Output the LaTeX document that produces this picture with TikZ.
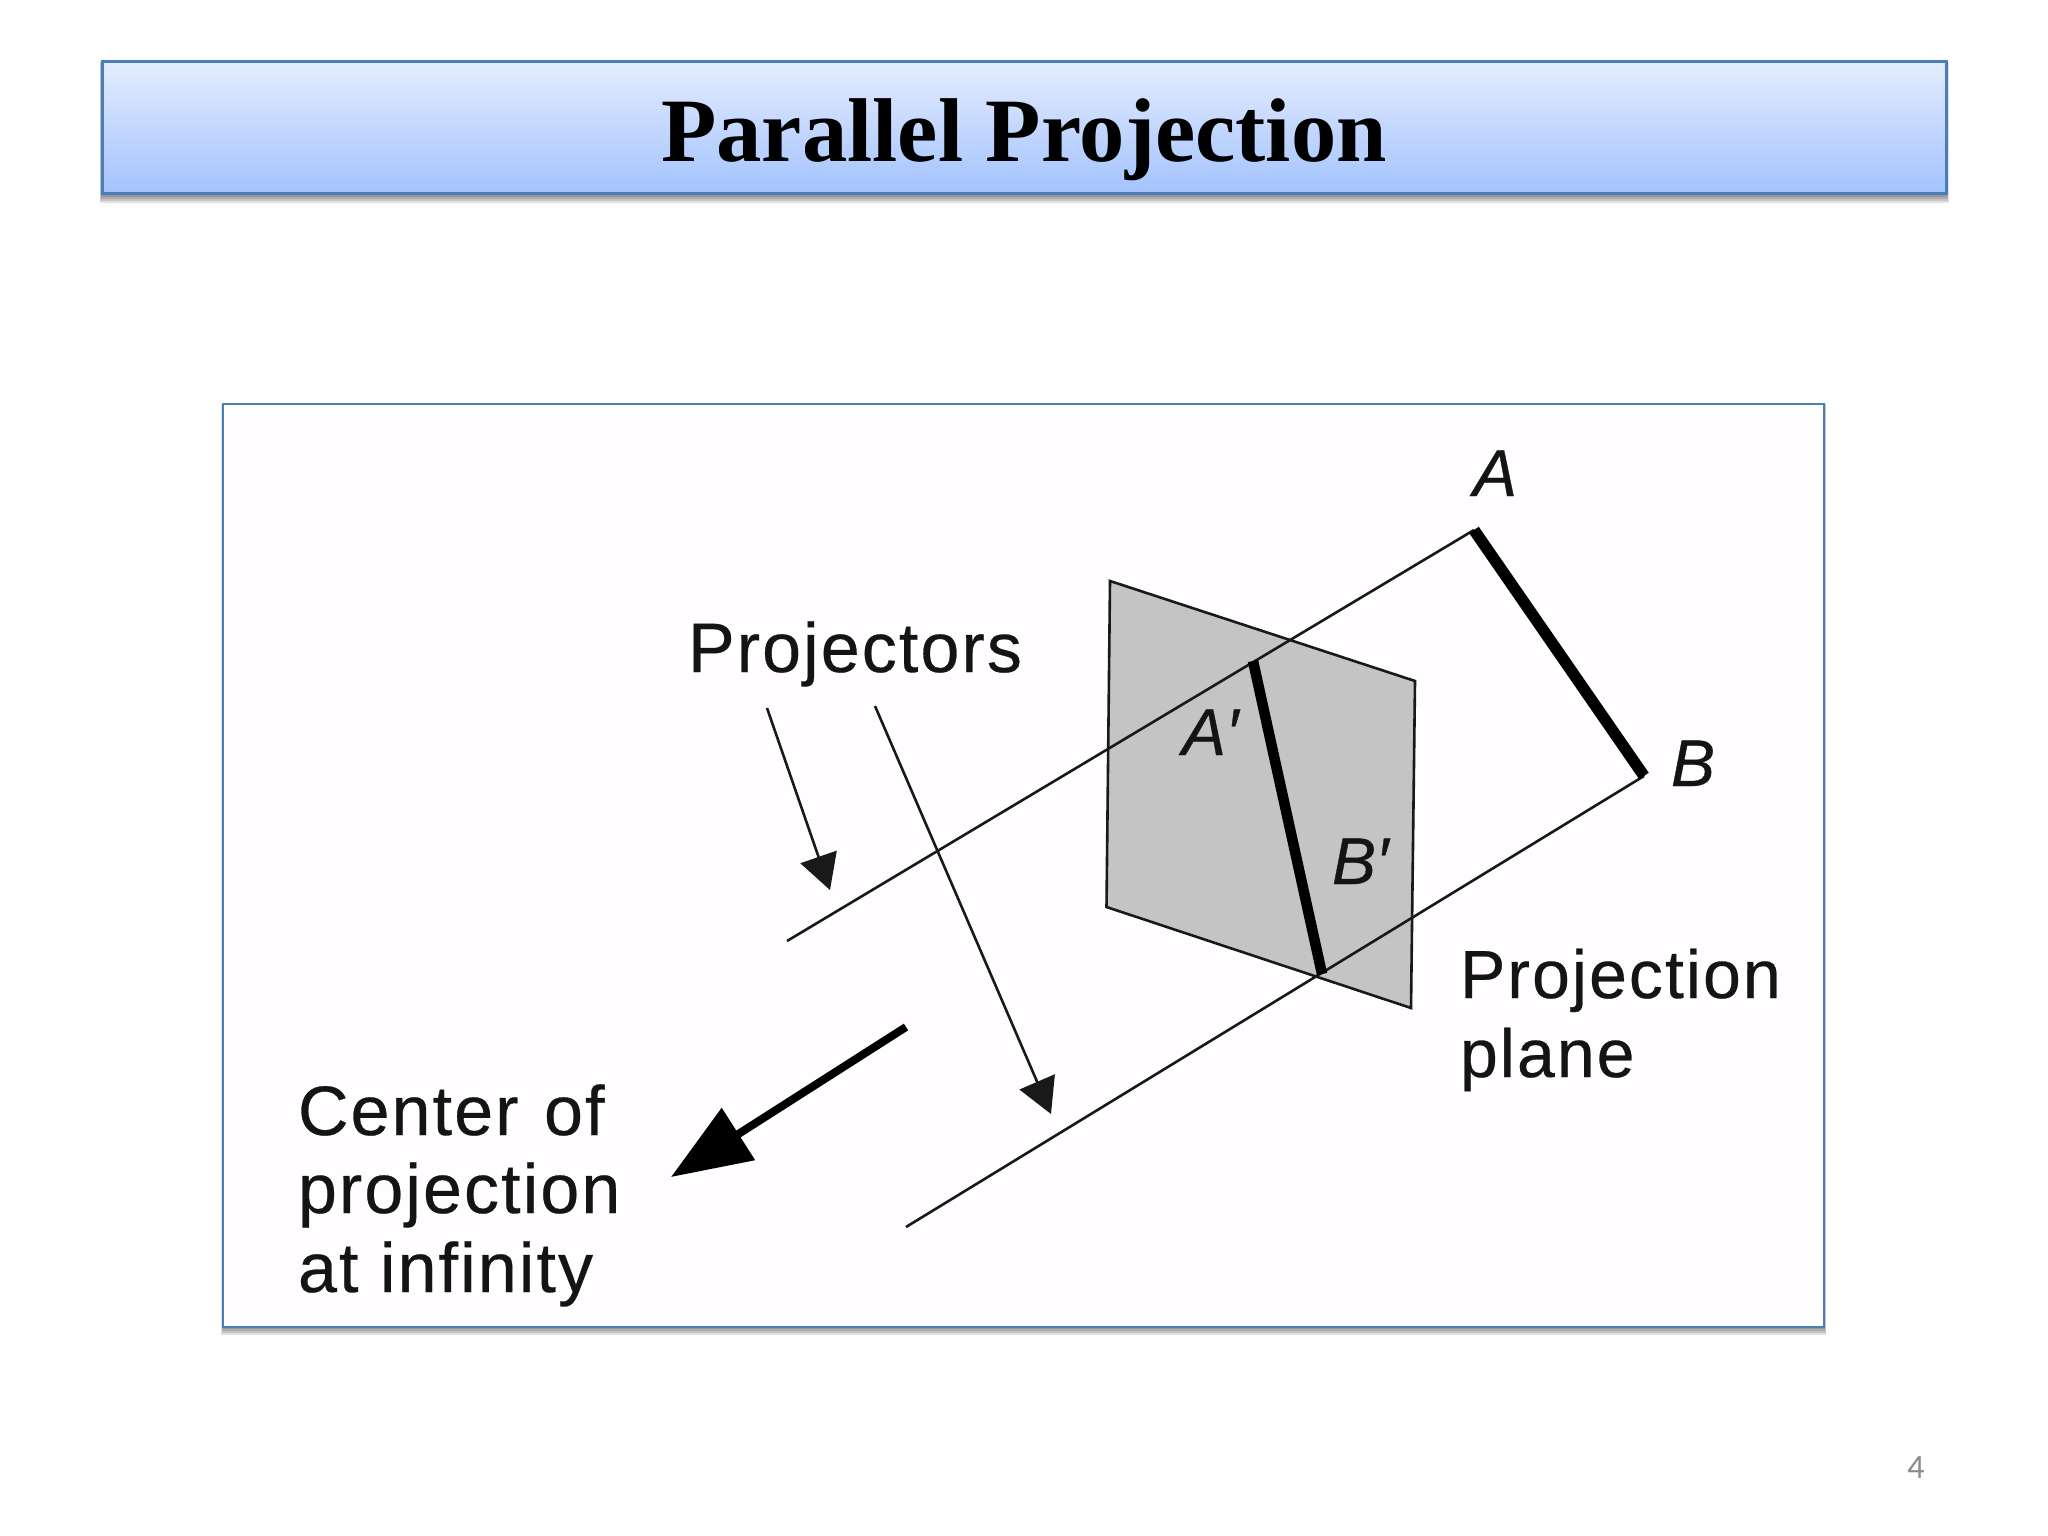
\documentclass[tikz,border=0pt]{standalone}
\usepackage{fontspec}
\setmainfont{Liberation Serif}
\newfontfamily\labfont[LetterSpace=3.0,FakeBold=0.4]{Liberation Sans}
\newfontfamily\labital[FakeBold=0.5]{Liberation Sans Italic}
\newfontfamily\numfont{Carlito}
\usetikzlibrary{arrows.meta}
\definecolor{boxblue}{HTML}{4A7EBB}
\definecolor{topblue}{HTML}{E4ECFE}
\definecolor{botblue}{HTML}{A3C3FE}
\definecolor{planegray}{HTML}{C4C4C4}
\definecolor{pagegray}{HTML}{8B8B8B}
\definecolor{paper}{HTML}{FFFDFF}
\tikzset{
  x=1pt,y=-1pt,
  thin line/.style={draw=black!90,line width=2.6pt},
  thick seg/.style={draw=black,line width=11.5pt,line cap=butt},
  small arrow/.style={draw=black!90,line width=2.6pt,-{Triangle[length=35pt,width=38pt]}},
  big arrow/.style={draw=black,line width=8pt,-{Triangle[length=80pt,width=60pt]}},
  lab/.style={anchor=base west,inner sep=0pt,outer sep=0pt,text=black!92,font=\fontsize{68}{68}\selectfont\labfont},
  lab big/.style={lab,font=\fontsize{70}{70}\selectfont\labfont},
  pt lab/.style={anchor=base west,inner sep=0pt,outer sep=0pt,text=black!92,font=\fontsize{66}{66}\selectfont\labital},
  soft/.style={fill=black,opacity=0.12},
}
\begin{document}
\begin{tikzpicture}
\useasboundingbox (0,0) rectangle (2048,1536);
\fill[white] (0,0) rectangle (2048,1536);
% title bar
\foreach \d in {2,4,6,8,10}{\fill[soft] (102-\d/4,62) rectangle (1946+\d/4,193+\d);}
\node[draw=boxblue,line width=3pt,minimum width=1844pt,minimum height=131pt,inner sep=0pt,outer sep=0pt,
      top color=topblue,bottom color=botblue,anchor=north west] (titlebar) at (102,62) {};
\node[anchor=base,inner sep=0pt,font=\fontsize{90.6}{91}\selectfont\bfseries] (title) at (1024,161) {Parallel Projection};
% figure frame
\foreach \d in {2,4,6,8}{\fill[soft] (223-\d/4,404) rectangle (1824+\d/4,1327+\d);}
\node[draw=boxblue,line width=2.6pt,fill=paper,minimum width=1601pt,minimum height=923pt,inner sep=0pt,outer sep=0pt,anchor=north west] (frame) at (223,404) {};
% plane
\coordinate (p1) at (1110,581);
\coordinate (p2) at (1415,681);
\coordinate (p3) at (1411,1008);
\coordinate (p4) at (1106.5,907);
\draw[thin line,fill=planegray,line join=miter] (p1) -- (p2) -- (p3) -- (p4) -- cycle;
% projectors
\coordinate (A) at (1474,530);
\coordinate (B) at (1644,776);
\coordinate (Aend) at (787,941);
\coordinate (Bend) at (906,1227);
\draw[thin line] (A) -- (Aend);
\draw[thin line] (B) -- (Bend);
\draw[thick seg] (A) -- (B);
\coordinate (Ap) at (1253,661);
\coordinate (Bp) at (1322,974);
\draw[thick seg,line width=10.5pt] (Ap) -- (Bp);
% arrows
\coordinate (a1s) at (767,708);
\coordinate (a1e) at (830,890);
\coordinate (a2s) at (875,706);
\coordinate (a2e) at (1051,1114);
\coordinate (a3s) at (906,1027);
\coordinate (a3e) at (671,1177);
\draw[small arrow] (a1s) -- (a1e);
\draw[small arrow] (a2s) -- (a2e);
\draw[big arrow] (a3s) -- (a3e);
% labels
\node[lab big] (projectors) at (688,672) {Projectors};
\node[lab big] (c1) at (298,1135) {Center\hspace{4pt} of};
\node[lab big] (c2) at (298,1213) {projection};
\node[lab big] (c3) at (298,1292) {at infinity};
\node[lab] (pp1) at (1460,998) {Projection};
\node[lab] (pp2) at (1460,1077) {plane};
\node[pt lab] (la) at (1473,496) {A};
\node[pt lab] (lb) at (1671,786) {B};
\node[pt lab] (lap) at (1182,755) {A′};
\node[pt lab] (lbp) at (1332,884) {B′};
\node[anchor=base,inner sep=0pt,text=pagegray,font=\fontsize{34}{34}\selectfont\numfont] (pagenum) at (1916,1478) {4};
\end{tikzpicture}
\end{document}
